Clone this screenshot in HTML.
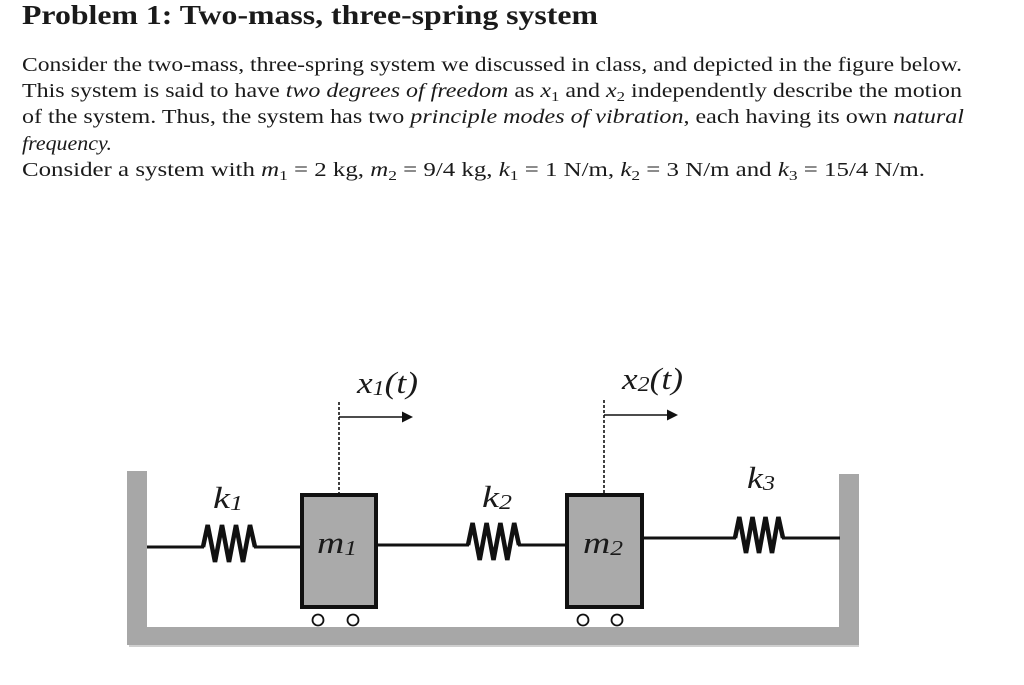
<!DOCTYPE html>
<html>
<head>
<meta charset="utf-8">
<style>
  html,body{margin:0;padding:0;background:#fff;}
  svg{display:block;}
  .t{font-family:"Liberation Serif","DejaVu Serif",serif;fill:#1a1a1a;}
  .i{font-style:italic;}
</style>
</head>
<body>
<svg width="1024" height="685" viewBox="0 0 1024 685" xmlns="http://www.w3.org/2000/svg">
  <rect width="1024" height="685" fill="#fff"/>

  <!-- Title -->
  <text class="t" x="22" y="24" font-size="27" font-weight="bold" textLength="576" lengthAdjust="spacingAndGlyphs">Problem 1: Two-mass, three-spring system</text>

  <!-- Body text -->
  <text class="t" x="22" y="71" font-size="20" textLength="940" lengthAdjust="spacingAndGlyphs">Consider the two-mass, three-spring system we discussed in class, and depicted in the figure below.</text>

  <text class="t" x="22" y="97" font-size="20" textLength="940" lengthAdjust="spacingAndGlyphs">This system is said to have <tspan class="i">two degrees of freedom</tspan> as <tspan class="i">x</tspan><tspan font-size="14" dy="4">1</tspan><tspan dy="-4"> and </tspan><tspan class="i">x</tspan><tspan font-size="14" dy="4">2</tspan><tspan dy="-4"> independently describe the motion</tspan></text>

  <text class="t" x="22" y="123" font-size="20" textLength="942" lengthAdjust="spacingAndGlyphs">of the system.  Thus, the system has two <tspan class="i">principle modes of vibration</tspan>, each having its own <tspan class="i">natural</tspan></text>

  <text class="t i" x="22" y="150" font-size="20" textLength="90" lengthAdjust="spacingAndGlyphs">frequency.</text>

  <text class="t" x="22" y="176" font-size="20" textLength="903" lengthAdjust="spacingAndGlyphs">Consider a system with <tspan class="i">m</tspan><tspan font-size="14" dy="4">1</tspan><tspan dy="-4"> = 2 kg, </tspan><tspan class="i">m</tspan><tspan font-size="14" dy="4">2</tspan><tspan dy="-4"> = 9/4 kg, </tspan><tspan class="i">k</tspan><tspan font-size="14" dy="4">1</tspan><tspan dy="-4"> = 1 N/m, </tspan><tspan class="i">k</tspan><tspan font-size="14" dy="4">2</tspan><tspan dy="-4"> = 3 N/m and </tspan><tspan class="i">k</tspan><tspan font-size="14" dy="4">3</tspan><tspan dy="-4"> = 15/4 N/m.</tspan></text>

  <!-- Walls and floor -->
  <g fill="#a7a7a7">
    <rect x="127" y="471" width="20" height="174"/>
    <rect x="839" y="474" width="20" height="171"/>
    <rect x="127" y="627" width="732" height="18"/>
  </g>
  <rect x="129" y="645" width="730" height="2" fill="#cfcfcf"/>

  <!-- Springs and connecting lines -->
  <g stroke="#111" fill="none" stroke-linejoin="miter" stroke-linecap="butt">
    <!-- k1 -->
    <line x1="147" y1="547" x2="204" y2="547" stroke-width="3"/>
    <polyline stroke-width="4.5" points="203,547 207.7,525 215,562 222,525 229,562 236,525 243,562 250,525 255,547"/>
    <line x1="254" y1="547" x2="301" y2="547" stroke-width="3"/>
    <!-- k2 -->
    <line x1="377" y1="545" x2="469" y2="545" stroke-width="3"/>
    <polyline stroke-width="4.5" points="468,545 472.6,523 479.7,560 486.6,523 493.5,560 500.4,523 507.3,560 514.2,523 519,545"/>
    <line x1="518" y1="545" x2="566" y2="545" stroke-width="3"/>
    <!-- k3 -->
    <line x1="643" y1="538" x2="736" y2="538" stroke-width="3"/>
    <polyline stroke-width="4.5" points="735,538 739.3,517 746,553 752.5,517 759,553 765.5,517 772,553 778.4,517 783,538"/>
    <line x1="782" y1="538" x2="840" y2="538" stroke-width="3"/>
  </g>

  <!-- Masses -->
  <rect x="302" y="495" width="74" height="112" fill="#aaaaaa" stroke="#111" stroke-width="4"/>
  <rect x="567" y="495" width="75" height="112" fill="#aaaaaa" stroke="#111" stroke-width="4"/>

  <!-- Wheels -->
  <g fill="#fff" stroke="#111" stroke-width="1.8">
    <circle cx="318" cy="620" r="5.5"/>
    <circle cx="353" cy="620" r="5.5"/>
    <circle cx="583" cy="620" r="5.5"/>
    <circle cx="617" cy="620" r="5.5"/>
  </g>

  <!-- Dashed reference lines and arrows -->
  <g stroke="#111" stroke-width="1.6">
    <line x1="339" y1="402" x2="339" y2="493" stroke-dasharray="3,2"/>
    <line x1="604" y1="400" x2="604" y2="493" stroke-dasharray="3,2"/>
    <line x1="339" y1="417" x2="404" y2="417"/>
    <line x1="604" y1="415" x2="669" y2="415"/>
  </g>
  <polygon points="402,411.5 413,417 402,422.5" fill="#111"/>
  <polygon points="667,409.5 678,415 667,420.5" fill="#111"/>

  <!-- Figure labels -->
  <g class="t" fill="#111">
    <text x="357" y="393" font-size="31" textLength="61" lengthAdjust="spacingAndGlyphs"><tspan class="i">x</tspan><tspan class="i" font-size="21" dy="2">1</tspan><tspan class="i" dy="-2">(t)</tspan></text>
    <text x="622" y="389" font-size="31" textLength="61" lengthAdjust="spacingAndGlyphs"><tspan class="i">x</tspan><tspan class="i" font-size="21" dy="2">2</tspan><tspan class="i" dy="-2">(t)</tspan></text>

    <text x="213" y="508" font-size="31" textLength="30" lengthAdjust="spacingAndGlyphs"><tspan class="i">k</tspan><tspan class="i" font-size="21" dy="2">1</tspan></text>
    <text x="482" y="507" font-size="31" textLength="30" lengthAdjust="spacingAndGlyphs"><tspan class="i">k</tspan><tspan class="i" font-size="21" dy="2">2</tspan></text>
    <text x="747" y="488" font-size="31" textLength="28" lengthAdjust="spacingAndGlyphs"><tspan class="i">k</tspan><tspan class="i" font-size="21" dy="2">3</tspan></text>

    <text x="317" y="553" font-size="31" textLength="40" lengthAdjust="spacingAndGlyphs"><tspan class="i">m</tspan><tspan class="i" font-size="21" dy="2">1</tspan></text>
    <text x="583" y="553" font-size="31" textLength="40" lengthAdjust="spacingAndGlyphs"><tspan class="i">m</tspan><tspan class="i" font-size="21" dy="2">2</tspan></text>
  </g>
</svg>
</body>
</html>
